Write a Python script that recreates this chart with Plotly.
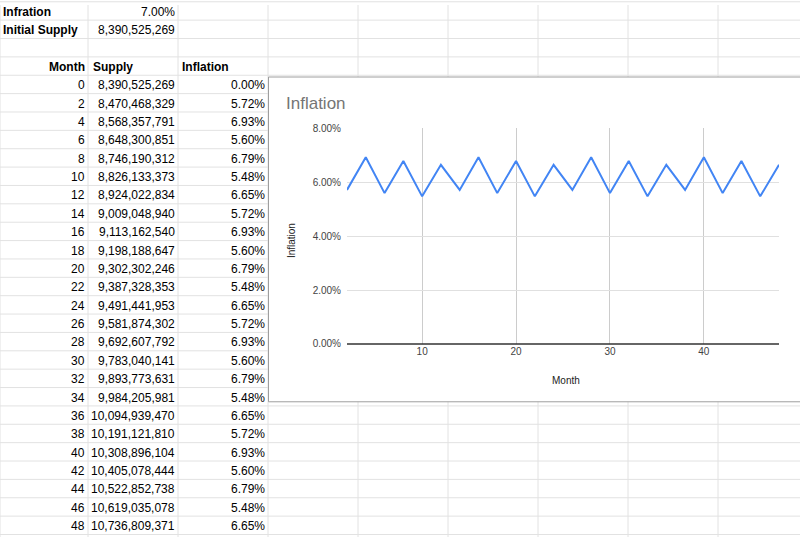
import plotly.graph_objects as go

months = [0,2,4,6,8,10,12,14,16,18,20,22,24,26,28,30,32,34,36,38,40,42,44,46,48]
supply = ["8,390,525,269","8,470,468,329","8,568,357,791","8,648,300,851","8,746,190,312",
          "8,826,133,373","8,924,022,834","9,009,048,940","9,113,162,540","9,198,188,647",
          "9,302,302,246","9,387,328,353","9,491,441,953","9,581,874,302","9,692,607,792",
          "9,783,040,141","9,893,773,631","9,984,205,981","10,094,939,470","10,191,121,810",
          "10,308,896,104","10,405,078,444","10,522,852,738","10,619,035,078","10,736,809,371"]
inflation = [0.0,5.72,6.93,5.60,6.79,5.48,6.65,5.72,6.93,5.60,6.79,5.48,6.65,5.72,6.93,
             5.60,6.79,5.48,6.65,5.72,6.93,5.60,6.79,5.48,6.65]
infration_param = "7.00%"
initial_supply = "8,390,525,269"

W, H = 800, 543
RH = 18.75
Y0 = -3.3
col_x = [0, 88, 178, 268, 358, 448, 538, 628, 718, 808]

def px(x): return x / W
def py(y): return 1 - y / H
def rc(k): return Y0 + RH * (k + 0.5) + 0.8

FONT = "Liberation Sans, Arial, sans-serif"
shapes = []
ann = []
for k in range(30):
    y = Y0 + RH * k
    shapes.append(dict(type="line", xref="paper", yref="paper", x0=0, x1=1, y0=py(y), y1=py(y),
                       line=dict(color="#e2e2e2", width=1), layer="below"))
for x in col_x:
    shapes.append(dict(type="line", xref="paper", yref="paper", x0=px(x), x1=px(x), y0=0, y1=1,
                       line=dict(color="#e2e2e2", width=1), layer="below"))
shapes.append(dict(type="rect", xref="paper", yref="paper", x0=px(268.5), x1=px(805), y0=py(405), y1=py(73.5),
                   fillcolor="white", line=dict(color="#9e9e9e", width=1), layer="below"))

def txt(x, y, s, anchor, bold=False, size=12, color="#000"):
    ann.append(dict(xref="paper", yref="paper", x=px(x), y=py(y), text=f"<b>{s}</b>" if bold else s,
                    showarrow=False, xanchor=anchor, yanchor="middle", borderpad=0,
                    font=dict(family=FONT, size=size, color=color)))

txt(2, rc(0), "Infration", "left", True)
txt(176, rc(0), infration_param, "right")
txt(2, rc(1), "Initial Supply", "left", True)
txt(176, rc(1), initial_supply, "right")
txt(86, rc(3), "Month", "right", True)
txt(92, rc(3), "Supply", "left", True)
txt(181, rc(3), "Inflation", "left", True)
for i, (m, s, f) in enumerate(zip(months, supply, inflation)):
    txt(86, rc(4 + i), str(m), "right")
    txt(176, rc(4 + i), s, "right")
    txt(266, rc(4 + i), f"{f:.2f}%", "right")

txt(285, 101, "Inflation", "left", size=17, color="#757575")
ann.append(dict(xref="paper", yref="paper", x=px(291), y=py(241), text="Inflation", textangle=-90,
                showarrow=False, xanchor="center", yanchor="middle",
                font=dict(family=FONT, size=10, color="#222")))
txt(566, 383, "Month", "center", size=10, color="#222")

fig = go.Figure()
fig.add_trace(go.Scatter(x=months[1:], y=[v / 100 for v in inflation[1:]], mode="lines",
                         line=dict(color="#4285f4", width=2), hoverinfo="skip"))
fig.update_layout(
    width=W, height=H, margin=dict(l=0, r=0, t=0, b=0),
    paper_bgcolor="white", plot_bgcolor="rgba(0,0,0,0)", showlegend=False,
    shapes=shapes, annotations=ann,
    xaxis=dict(domain=[px(347), px(779)], range=[2, 48], tickvals=[10, 20, 30, 40],
               showgrid=True, gridcolor="#cccccc", zeroline=False, showline=False,
               tickfont=dict(family=FONT, size=10, color="#444"), ticks=""),
    yaxis=dict(domain=[py(346), py(126)], range=[0, 0.08], tickvals=[0, 0.02, 0.04, 0.06, 0.08],
               tickformat=".2%", showgrid=True, gridcolor="#e0e0e0", zeroline=False,
               showline=False, ticks="", ticklabelstandoff=5,
               tickfont=dict(family=FONT, size=10, color="#444")),
)
fig.add_shape(type="line", xref="paper", yref="paper", x0=px(347), x1=px(779), y0=py(346), y1=py(346),
              line=dict(color="#333", width=1.5))
fig.write_html("out.html", config={"displayModeBar": False},
               post_script="document.body.style.margin='0';document.body.style.overflow='hidden';")
